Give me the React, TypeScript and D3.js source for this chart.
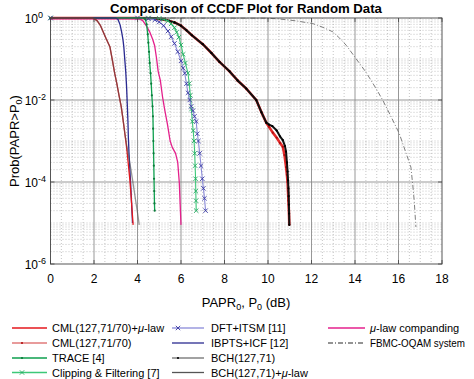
import React from "react";
import * as d3 from "d3";

const W = 474;
const H = 379;

const xTicks = [0, 2, 4, 6, 8, 10, 12, 14, 16, 18];
const yTickExps = [0, -2, -4, -6];

const cmlMuLaw: [number, number][] = [
  [0, 1], [1.9, 1], [2.0, 0.97], [2.15, 0.85], [2.3, 0.65], [2.42, 0.46], [2.55, 0.32],
  [2.73, 0.2], [2.85, 0.09], [2.95, 0.045], [3.05, 0.025], [3.15, 0.013], [3.25, 0.007],
  [3.34, 0.0032], [3.42, 0.0015], [3.5, 7e-4], [3.57, 3e-4], [3.65, 1.1e-4], [3.7, 5e-5],
  [3.75, 2e-5], [3.8, 9e-6],
];
const bchMuLaw: [number, number][] = [
  [0, 1], [1.9, 1], [2.0, 0.97], [2.15, 0.85], [2.3, 0.65], [2.42, 0.46], [2.55, 0.32],
  [2.73, 0.2], [2.85, 0.09], [2.95, 0.045], [3.05, 0.025], [3.15, 0.013], [3.25, 0.007],
  [3.34, 0.0032], [3.42, 0.0015], [3.5, 8e-4], [3.6, 4e-4], [3.7, 2e-4], [3.8, 9e-5],
  [3.9, 4e-5], [4.0, 1.8e-5], [4.08, 9e-6],
];
const ibpts: [number, number][] = [
  [0, 1], [3.0, 1], [3.1, 0.93], [3.2, 0.68], [3.27, 0.46], [3.33, 0.3], [3.37, 0.2],
  [3.42, 0.09], [3.46, 0.048], [3.5, 0.02], [3.53, 0.008], [3.56, 0.003], [3.58, 1.2e-3],
  [3.61, 5e-4], [3.65, 2e-4], [3.69, 8e-5], [3.73, 3e-5], [3.77, 1e-5],
];
const trace: [number, number][] = [
  [0, 1], [4.3, 1], [4.36, 0.93], [4.42, 0.7], [4.47, 0.4], [4.5, 0.25], [4.53, 0.15],
  [4.56, 0.08], [4.6, 0.045], [4.63, 0.025], [4.66, 0.013], [4.69, 0.007], [4.71, 0.004],
  [4.72, 0.002], [4.73, 1e-3], [4.74, 5e-4], [4.75, 2.5e-4], [4.76, 1.2e-4], [4.77, 6e-5],
  [4.78, 3e-5], [4.79, 2e-5],
];
const muLaw: [number, number][] = [
  [0, 0.96], [4.1, 0.96], [4.25, 0.85], [4.4, 0.65], [4.56, 0.46], [4.7, 0.3], [4.79, 0.21],
  [4.88, 0.1], [4.95, 0.05], [5.05, 0.03], [5.15, 0.012], [5.25, 0.0058], [5.38, 0.0025],
  [5.5, 1e-3], [5.6, 7e-4], [5.75, 5e-4], [5.85, 3e-4], [5.92, 1e-4], [5.96, 3e-5], [6.0, 9e-6],
];
const dftItsm: [number, number][] = [
  [0, 1], [4.0, 1], [4.5, 0.96], [4.8, 0.9], [5.0, 0.8], [5.2, 0.65], [5.4, 0.48],
  [5.55, 0.35], [5.7, 0.24], [5.85, 0.15], [6.0, 0.09], [6.1, 0.06], [6.17, 0.045],
  [6.25, 0.025], [6.32, 0.015], [6.4, 0.01], [6.47, 0.007], [6.55, 0.0055], [6.62, 0.004],
  [6.7, 0.003], [6.75, 0.0015], [6.8, 1e-3], [6.86, 5e-4], [6.92, 2.5e-4], [6.98, 1.2e-4],
  [7.03, 7e-5], [7.08, 4e-5], [7.13, 2e-5],
];
const clipping: [number, number][] = [
  [0, 1], [4.5, 1], [5.0, 0.98], [5.2, 0.93], [5.4, 0.85], [5.55, 0.72], [5.7, 0.58],
  [5.8, 0.45], [5.9, 0.34], [6.0, 0.22], [6.1, 0.13], [6.2, 0.08], [6.32, 0.045],
  [6.38, 0.025], [6.43, 0.013], [6.48, 0.006], [6.52, 0.003], [6.56, 0.0018], [6.6, 1e-3],
  [6.63, 5e-4], [6.65, 2.5e-4], [6.67, 1.2e-4], [6.68, 6e-5], [6.69, 3.5e-5], [6.7, 2e-5],
];
const bch: [number, number][] = [
  [0, 1], [4.0, 1], [4.8, 0.98], [5.3, 0.9], [5.7, 0.78], [6.0, 0.65], [6.25, 0.5],
  [6.5, 0.38], [7.0, 0.23], [7.4, 0.14], [7.77, 0.085], [8.23, 0.05], [8.6, 0.03],
  [9.0, 0.019], [9.46, 0.01], [9.7, 0.005], [9.92, 0.0028], [10.05, 0.0025], [10.2, 0.0023],
  [10.4, 0.0018], [10.55, 0.0013], [10.68, 0.00105], [10.78, 7.5e-4], [10.83, 5.5e-4],
  [10.87, 3e-4], [10.9, 1.8e-4], [10.92, 1.1e-4], [10.94, 7e-5], [10.95, 4.5e-5],
  [10.96, 2.8e-5], [10.97, 1.7e-5], [10.98, 9e-6],
];
const cml: [number, number][] = [
  [0, 1], [4.0, 1], [4.8, 0.98], [5.3, 0.9], [5.7, 0.78], [6.0, 0.65], [6.25, 0.5],
  [6.5, 0.38], [7.0, 0.23], [7.4, 0.14], [7.77, 0.085], [8.23, 0.05], [8.6, 0.03],
  [9.0, 0.019], [9.46, 0.01], [9.7, 0.005], [9.92, 0.0028], [10.05, 0.0022], [10.22, 0.0016],
  [10.4, 0.0012], [10.55, 9e-4], [10.68, 7.2e-4], [10.76, 4.5e-4], [10.83, 2.3e-4],
  [10.87, 1.5e-4], [10.9, 1e-4], [10.92, 6e-5], [10.94, 3.5e-5], [10.96, 2e-5], [10.98, 9e-6],
];
const fbmc: [number, number][] = [
  [0, 1], [6, 1], [10, 0.99], [10.5, 0.95], [11.3, 0.85], [12.06, 0.73], [12.5, 0.6],
  [12.98, 0.46], [13.3, 0.32], [13.6, 0.215], [14.06, 0.1], [14.5, 0.048], [14.97, 0.019],
  [15.27, 0.01], [15.65, 0.004], [16.03, 0.00155], [16.3, 6e-4], [16.57, 2.3e-4],
  [16.66, 8e-5], [16.72, 3.6e-5], [16.8, 8e-6],
];

const legendLabels = [
  ["CML(127,71/70)+μ-law", "CML(127,71/70)", "TRACE [4]", "Clipping & Filtering [7]"],
  ["DFT+ITSM [11]", "IBPTS+ICF [12]", "BCH(127,71)", "BCH(127,71)+μ-law"],
  ["μ-law companding", "FBMC-OQAM system"],
];

const L = 50.5, R = 442, T = 18, B = 264;
const FONT = "Liberation Sans, Arial, Helvetica, sans-serif";

type Marker = "none" | "dot" | "x";
interface Style {
  color: string;
  width: number;
  dash?: string;
  marker: Marker;
  markerColor?: string;
  opacity?: number;
}

const styles: Record<string, Style> = {
  cmlMuLaw: { color: "#e5171c", width: 1.3, marker: "none" },
  cml: { color: "#e42a2a", width: 2.6, marker: "dot", markerColor: "#b01010" },
  trace: { color: "#0e9f4e", width: 1.3, marker: "dot", markerColor: "#0a7a3a" },
  clipping: { color: "#3cc878", width: 1.1, marker: "x", markerColor: "#22a860" },
  dftItsm: { color: "#8a8ad8", width: 1.1, marker: "x", markerColor: "#3838a0" },
  ibpts: { color: "#2a2a90", width: 1.3, marker: "none" },
  bch: { color: "#111111", width: 2.0, marker: "dot", markerColor: "#000" },
  bchMuLaw: { color: "#505050", width: 1.3, marker: "none", opacity: 0.6 },
  muLaw: { color: "#e4208c", width: 1.3, marker: "none" },
  fbmc: { color: "#707070", width: 0.9, dash: "5,2,1,2", marker: "none" },
};

function Superscript({ x, y, base, sup, anchor }: any) {
  return (
    <text x={x} y={y} textAnchor={anchor} fontFamily={FONT} fontSize={12} fill="#000">
      {base}
      <tspan dy={-5} fontSize={9}>{sup}</tspan>
    </text>
  );
}

function MarkerShape({ m, cx, cy, color }: { m: Marker; cx: number; cy: number; color: string }) {
  if (m === "dot") return <circle cx={cx} cy={cy} r={1.1} fill={color} />;
  if (m === "x") {
    const s = 2.2;
    return (
      <path
        d={`M${cx - s},${cy - s}L${cx + s},${cy + s}M${cx - s},${cy + s}L${cx + s},${cy - s}`}
        stroke={color}
        strokeWidth={0.9}
        fill="none"
      />
    );
  }
  return null;
}

export default function App() {
  const x = d3.scaleLinear().domain([0, 18]).range([L, R]);
  const y = d3.scaleLog().domain([1e-6, 1]).range([B, T]);
  const line = d3
    .line<[number, number]>()
    .x((d) => x(d[0]))
    .y((d) => y(d[1]));

  const minorX = d3.range(0, 18.001, 0.5).filter((v) => Math.abs(v / 2 - Math.round(v / 2)) > 1e-6);
  const minorY: number[] = [];
  for (let e = -6; e < 0; e++) {
    for (let k = 1; k <= 9; k++) {
      const v = k * Math.pow(10, e);
      if (k === 1 && e % 2 === 0) continue;
      minorY.push(v);
    }
  }

  const series: [string, [number, number][]][] = [
    ["fbmc", fbmc],
    ["cml", cml],
    ["bch", bch],
    ["clipping", clipping],
    ["dftItsm", dftItsm],
    ["muLaw", muLaw],
    ["trace", trace],
    ["ibpts", ibpts],
    ["cmlMuLaw", cmlMuLaw],
    ["bchMuLaw", bchMuLaw],
  ];

  const legendKeys = [
    ["cmlMuLaw", "cml", "trace", "clipping"],
    ["dftItsm", "ibpts", "bch", "bchMuLaw"],
    ["muLaw", "fbmc"],
  ];
  const legendCols = [
    { x0: 12, x1: 47, tx: 52, mx: 22 },
    { x0: 172, x1: 204, tx: 211, mx: 178 },
    { x0: 328, x1: 365, tx: 370, mx: 346 },
  ];
  const legendRows = [328, 343, 358, 372.5];

  const renderLabel = (s: string) => {
    const parts = s.split("μ");
    if (parts.length === 1) return s;
    return (
      <>
        {parts[0]}
        <tspan fontStyle="italic">μ</tspan>
        {parts[1]}
      </>
    );
  };

  return (
    <svg width={W} height={H} style={{ position: "absolute", left: 0, top: 0, background: "#fff" }}>
      <rect x={0} y={0} width={W} height={H} fill="#fff" />
      <text x={246} y={13} textAnchor="middle" fontFamily={FONT} fontWeight="bold" fontSize={13.2} fill="#000">
        Comparison of CCDF Plot for Random Data
      </text>

      {/* minor grid */}
      <g stroke="#a0a0a0" strokeWidth={0.6} strokeDasharray="1,2">
        {minorX.map((v) => (
          <line key={"mx" + v} x1={x(v)} x2={x(v)} y1={T} y2={B} />
        ))}
        {minorY.map((v, i) => (
          <line key={"my" + i} x1={L} x2={R} y1={y(v)} y2={y(v)} />
        ))}
      </g>
      {/* major grid */}
      <g stroke="#8c8c8c" strokeWidth={0.9}>
        {xTicks.slice(1, -1).map((v) => (
          <line key={"gx" + v} x1={x(v)} x2={x(v)} y1={T} y2={B} />
        ))}
        {yTickExps.slice(1, -1).map((e) => (
          <line key={"gy" + e} x1={L} x2={R} y1={y(Math.pow(10, e))} y2={y(Math.pow(10, e))} />
        ))}
      </g>

      {/* curves */}
      {series.map(([k, data]) => {
        const st = styles[k];
        return (
          <g key={k} opacity={st.opacity ?? 1}>
            <path
              d={line(data) || ""}
              fill="none"
              stroke={st.color}
              strokeWidth={st.width}
              strokeDasharray={st.dash}
              strokeLinejoin="round"
            />
            {st.marker !== "none" &&
              data.map((d, i) => (
                <MarkerShape key={i} m={st.marker} cx={x(d[0])} cy={y(d[1])} color={st.markerColor || st.color} />
              ))}
          </g>
        );
      })}

      {/* axes box */}
      <rect x={L} y={T} width={R - L} height={B - T} fill="none" stroke="#444" strokeWidth={0.9} />
      <g stroke="#444" strokeWidth={0.8}>
        {xTicks.map((v) => (
          <g key={"tx" + v}>
            <line x1={x(v)} x2={x(v)} y1={B} y2={B - 4} />
            <line x1={x(v)} x2={x(v)} y1={T} y2={T + 4} />
          </g>
        ))}
        {yTickExps.map((e) => (
          <g key={"ty" + e}>
            <line x1={L} x2={L + 4} y1={y(Math.pow(10, e))} y2={y(Math.pow(10, e))} />
            <line x1={R} x2={R - 4} y1={y(Math.pow(10, e))} y2={y(Math.pow(10, e))} />
          </g>
        ))}
      </g>

      {/* tick labels */}
      {xTicks.map((v) => (
        <text key={"xl" + v} x={x(v)} y={283} textAnchor="middle" fontFamily={FONT} fontSize={12} fill="#000">
          {v}
        </text>
      ))}
      {yTickExps.map((e) => (
        <Superscript key={"yl" + e} x={e === 0 ? 43 : 46} y={y(Math.pow(10, e)) + 5} base="10" sup={String(e)} anchor="end" />
      ))}

      {/* axis labels */}
      <text x={246} y={307} textAnchor="middle" fontFamily={FONT} fontSize={13} fill="#000">
        PAPR<tspan dy={3} fontSize={9}>0</tspan>
        <tspan dy={-3}>, P</tspan>
        <tspan dy={3} fontSize={9}>0</tspan>
        <tspan dy={-3}> (dB)</tspan>
      </text>
      <text
        transform={`translate(19,${(T + B) / 2}) rotate(-90)`}
        textAnchor="middle"
        fontFamily={FONT}
        fontSize={13}
        fill="#000"
      >
        Prob(PAPR&gt;P<tspan dy={3} fontSize={9}>0</tspan>
        <tspan dy={-3}>)</tspan>
      </text>

      {/* legend */}
      {legendKeys.map((col, ci) =>
        col.map((k, ri) => {
          const st = styles[k];
          const c = legendCols[ci];
          const yy = legendRows[ri];
          const lineColor =
            k === "cml" ? "#e07a7a" : k === "bch" ? "#707070" : k === "bchMuLaw" ? "#555" : st.color;
          const isLong = ci === 2 && ri === 1;
          return (
            <g key={"lg" + k}>
              <line
                x1={c.x0}
                x2={c.x1}
                y1={yy}
                y2={yy}
                stroke={lineColor}
                strokeWidth={1.3}
                strokeDasharray={st.dash}
              />
              {st.marker !== "none" && (
                <MarkerShape m={st.marker} cx={c.mx} cy={yy} color={st.markerColor || st.color} />
              )}
              <text
                x={c.tx}
                y={yy + 4}
                fontFamily={FONT}
                fontSize={isLong ? 10.2 : 11}
                fill="#000"
                {...(isLong ? { textLength: 95, lengthAdjust: "spacingAndGlyphs" } : {})}
              >
                {renderLabel(legendLabels[ci][ri])}
              </text>
            </g>
          );
        })
      )}
    </svg>
  );
}
